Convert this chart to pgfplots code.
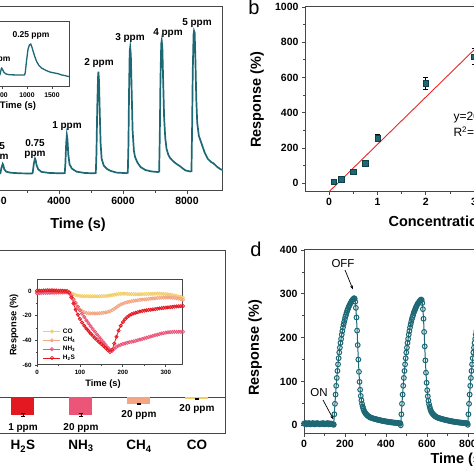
\documentclass[border=0pt]{standalone}
\usepackage{pgfplots}
\pgfplotsset{compat=1.18}
\usetikzlibrary{arrows.meta}
\usepackage{fontspec}
\setmainfont{Liberation Sans}

\definecolor{teal1}{RGB}{28,104,116}
\definecolor{fitred}{RGB}{232,40,40}
\definecolor{coC}{RGB}{242,206,106}
\definecolor{chC}{RGB}{244,166,130}
\definecolor{nhC}{RGB}{236,84,120}
\definecolor{hsC}{RGB}{228,24,32}
\definecolor{frameC}{RGB}{70,70,70}

\newcommand{\fs}[1]{\fontsize{#1}{#1}\selectfont}

\pgfplotsset{
  panel/.style={
    scale only axis, anchor=south west,
    axis line style={frameC, line width=1pt},
    tick style={frameC, line width=0.8pt}, tick align=outside,
    major tick length=3pt, minor tick length=1.8pt,
    xtick pos=left, ytick pos=left,
    /pgf/number format/assume math mode=true,
    /pgf/number format/1000 sep={},
    ticklabel style={font=\fs{10.5}\bfseries},
  },
  cbar/.style={ybar, bar width=23pt, draw=none,
    error bars/.cd, y dir=both, y explicit,
    error bar style={black, line width=0.8pt},
    error mark options={rotate=90, black, mark size=2.4pt, line width=0.8pt},
    /pgfplots/.cd},
  tr/.style={#1, mark=o, mark size=1.6pt, line width=0.75pt},
}

\begin{document}
\begin{tikzpicture}[x=1pt,y=1pt]
\useasboundingbox (0,0) rectangle (474,474);
\clip (0,0) rectangle (474,474);
\fill[white] (0,0) rectangle (474,474);

%% ---------------- (a) response transients ----------------
\begin{axis}[panel, at={(-69pt,283pt)}, width=292pt, height=184pt,
  xmin=0, xmax=9125, ymin=0, ymax=1000,
  xtick={0,2000,4000,6000,8000}, minor x tick num=1, ytick=\empty]
\addplot[teal1, line width=1.7pt] coordinates {
(1800,96)(2100,95)(2170,97)(2200,125)(2240,147)(2260,140)(2290,118)(2350,105)(2500,99)
(2800,96)(3150,95)(3180,100)(3215,150)(3250,176)(3270,168)(3300,140)(3350,118)(3450,104)
(3700,98)(4100,96)(4180,98)(4200,150)(4225,260)(4245,304)(4265,280)(4290,200)(4330,145)
(4400,122)(4550,105)(4800,98)(5100,96)(5150,98)(5170,200)(5195,450)(5220,620)(5232,648)
(5250,600)(5275,420)(5300,260)(5333,175)(5400,138)(5500,120)(5600,110)(5800,100)(6100,97)
(6150,99)(6170,250)(6190,550)(6210,760)(6225,781)(6245,740)(6270,550)(6300,330)(6340,220)
(6375,186)(6450,155)(6550,130)(6700,114)(6900,106)(7100,103)(7130,106)(7150,300)(7170,600)
(7195,800)(7210,817)(7230,780)(7255,600)(7285,400)(7320,290)(7360,230)(7420,195)(7470,180)
(7550,165)(7650,150)(7780,135)(7850,125)(7950,112)(8100,106)(8140,108)(8160,350)(8180,650)
(8205,850)(8220,870)(8240,860)(8265,700)(8290,500)(8320,370)(8370,300)(8430,270)(8460,255)
(8550,210)(8650,175)(8750,158)(8830,150)(8950,130)(9050,118)(9125,114)};
\node[font=\fs{10}\bfseries] at (axis cs:8312,913) {5 ppm};
\node[font=\fs{10}\bfseries] at (axis cs:7406,859) {4 ppm};
\node[font=\fs{10}\bfseries] at (axis cs:6219,832) {3 ppm};
\node[font=\fs{10}\bfseries] at (axis cs:5250,696) {2 ppm};
\node[font=\fs{10}\bfseries] at (axis cs:4250,353) {1 ppm};
\node[font=\fs{10}\bfseries, align=center, inner sep=0pt] at (axis cs:3250,228) {0.75\\ppm};
\node[font=\fs{10}\bfseries, align=center, inner sep=0pt] at (axis cs:2094,212) {0.5\\ppm};
\end{axis}
\node[font=\fs{14.5}\bfseries] at (78,249) {Time (s)};

% inset of (a): low concentrations
\begin{axis}[panel, at={(-23pt,387pt)}, width=92pt, height=65pt,
  xmin=0, xmax=1840, ymin=0, ymax=100,
  xtick={0,500,1000,1500}, ytick=\empty,
  major tick length=2pt, axis background/.style={fill=white},
  ticklabel style={font=\fs{6.8}\bfseries}]
\addplot[teal1, line width=1.3pt] coordinates {
(0,18.5)(200,18.6)(400,18.3)(455,18.5)(470,22)(485,28)(495,29)(510,27)(540,22.5)(580,20)
(650,18.8)(800,18.5)(950,18.5)(965,22)(990,40)(1020,58)(1050,65)(1075,66)(1100,61)(1126,54)
(1160,46)(1194,39)(1240,33)(1294,29)(1380,25.5)(1460,23)(1550,21.5)(1620,20.5)(1694,18.5)
(1760,17.5)(1840,16)};
\node[font=\fs{8.5}\bfseries] at (axis cs:1080,80) {0.25 ppm};
\node[font=\fs{8.5}\bfseries, anchor=east] at (axis cs:740,43) {0.1 ppm};
\end{axis}
\node[font=\fs{9.5}\bfseries] at (18,368) {Time (s)};

%% ---------------- (b) calibration ----------------
\begin{axis}[panel, at={(305pt,282pt)}, width=289.8pt, height=185pt,
  xmin=-0.5, xmax=5.5, ymin=-50, ymax=1000,
  xtick={0,1,2,3,4,5}, minor x tick num=1,
  ytick={0,200,400,600,800,1000}, minor y tick num=1]
\addplot[fitred, line width=0.9pt] coordinates {(0,-48) (3.3,837)};
\addplot[only marks, mark=square*, mark size=2.7pt,
  mark options={fill=teal1, draw=teal1!60!black},
  error bars/.cd, y dir=both, y explicit,
  error bar style={black, line width=0.8pt},
  error mark options={rotate=90, black, mark size=2.4pt, line width=0.8pt}]
  coordinates {(0.1,8) +- (0,4) (0.25,22) +- (0,5) (0.5,65) +- (0,6)
  (0.75,113) +- (0,7) (1,255) +- (0,20) (2,567) +- (0,35) (3,718) +- (0,45)};
\end{axis}
\node[font=\fs{20}, anchor=base] at (254,459) {b};
\node[font=\fs{14.5}\bfseries, rotate=90] at (257,374) {Response (\%)};
\node[font=\fs{14.5}\bfseries, anchor=west] at (385,251) {Concentration (ppm)};
\node[font=\fs{12}, anchor=west] at (450,356) {y=268.2x-47.6};
\node[font=\fs{12}, anchor=west] at (450,342) {R\textsuperscript{2}=0.972};

%% ---------------- (c) selectivity ----------------
\begin{axis}[panel, at={(-6pt,40pt)}, width=232pt, height=183pt,
  xmin=-0.5, xmax=3.5, ymin=-100, ymax=400,
  xtick={0,1,2,3},
  xticklabels={H\textsubscript{2}S, NH\textsubscript{3}, CH\textsubscript{4}, CO},
  xticklabel style={font=\fs{13.5}\bfseries},
  xtick style={draw=none}, ytick={-100,0,100,200,300,400}]
\draw[frameC, line width=1pt] (axis cs:-0.5,0) -- (axis cs:3.5,0);
\addplot[fill=hsC, cbar] coordinates {(0,-48) +- (0,4)};
\addplot[fill=nhC, cbar] coordinates {(1,-48) +- (0,4)};
\addplot[fill=chC, cbar] coordinates {(2,-18) +- (0,2)};
\addplot[fill=coC, cbar] coordinates {(3,-4.5) +- (0,1.5)};
\node[font=\fs{10}\bfseries] at (axis cs:0,-83.6) {1 ppm};
\node[font=\fs{10}\bfseries] at (axis cs:1,-83.6) {20 ppm};
\node[font=\fs{10}\bfseries] at (axis cs:2,-48) {20 ppm};
\node[font=\fs{10}\bfseries] at (axis cs:3,-31.7) {20 ppm};
\end{axis}

% inset of (c): transient responses
\begin{axis}[panel, at={(37pt,109pt)}, width=146pt, height=86pt,
  xmin=0, xmax=340, ymin=-60, ymax=10,
  xtick={0,100,200,300}, ytick={-60,-40,-20,0},
  major tick length=2pt, minor tick length=1.2pt,
  minor x tick num=1, minor y tick num=1,
  ticklabel style={font=\fs{6.2}\bfseries},
  legend style={at={(axis description cs:0.04,0.45)}, anchor=north west,
    draw=none, fill=none, font=\fs{6.5}\bfseries, row sep=-1.2pt, inner sep=0pt},
  legend cell align=left]
\addplot[tr=coC] coordinates {
(0,0.3)(5,0.4)(10,0.3)(15,0.5)(20,0.4)(25,0.3)(30,0.5)(35,0.4)(40,0.3)(45,0.4)(50,0.3)(55,0.2)
(60,0.2)(65,0.1)(70,0)(75,-0.6)(80,-1.6)(85,-2.5)(90,-3.1)(95,-3.5)(100,-3.8)(105,-3.9)(110,-4)
(115,-4)(120,-4.1)(125,-4.1)(130,-4)(135,-4)(140,-4.1)(145,-4)(150,-3.9)(155,-3.9)(160,-3.8)
(165,-3.7)(170,-3.5)(175,-3.2)(180,-2.8)(185,-2.5)(190,-2.2)(195,-2.1)(200,-2)(205,-2)(210,-2.1)
(215,-2.2)(220,-2.3)(225,-2.3)(230,-2.4)(235,-2.4)(240,-2.4)(245,-2.3)(250,-2.3)(255,-2.2)
(260,-2.2)(265,-2.1)(270,-2.1)(275,-2)(280,-2)(285,-2)(290,-2.1)(295,-2.2)(300,-2.3)(305,-2.5)
(310,-2.8)(315,-3.1)(320,-3.4)(325,-3.8)(330,-4.2)(335,-4.6)(340,-5)};
\addlegendentry{CO}
\addplot[tr=chC] coordinates {
(0,-1)(5,-1)(10,-0.9)(15,-1)(20,-1.1)(25,-1)(30,-0.9)(35,-1)(40,-1)(45,-0.9)(50,-0.8)(55,-0.7)
(60,-0.6)(65,-0.6)(70,-0.7)(75,-1.8)(80,-4.5)(85,-7.5)(90,-10.3)(95,-12.8)(100,-14.8)(105,-16.2)
(110,-17.1)(115,-17.6)(120,-17.9)(125,-18)(130,-18)(135,-18)(140,-17.9)(145,-17.8)(150,-17.7)
(155,-17.5)(160,-17.2)(165,-16.8)(170,-16.2)(175,-15.3)(180,-14.2)(185,-13)(190,-11.8)(195,-10.8)
(200,-10)(205,-9.4)(210,-8.9)(215,-8.5)(220,-8.1)(225,-7.8)(230,-7.5)(235,-7.2)(240,-7)(245,-6.8)
(250,-6.6)(255,-6.4)(260,-6.2)(265,-6)(270,-5.8)(275,-5.7)(280,-5.5)(285,-5.4)(290,-5.3)(295,-5.2)
(300,-5.1)(305,-5.1)(310,-5.1)(315,-5.2)(320,-5.4)(325,-5.7)(330,-6)(335,-6.4)(340,-6.8)};
\addlegendentry{CH\textsubscript{4}}
\addplot[tr=nhC] coordinates {
(0,-1.5)(5,-1.5)(10,-1.4)(15,-1.3)(20,-1.3)(25,-1.2)(30,-1.2)(35,-1.1)(40,-1.1)(45,-1)(50,-1)
(55,-0.9)(60,-0.9)(65,-0.9)(70,-1)(75,-1.5)(80,-3.5)(85,-6.5)(90,-9.5)(95,-12.5)(100,-15.5)
(105,-18.3)(110,-21)(115,-23.6)(120,-26)(125,-28.4)(130,-30.7)(135,-33)(140,-35.2)(145,-37.4)
(150,-39.5)(155,-41.6)(160,-43.7)(165,-45.8)(170,-47.8)(175,-48.5)(180,-46.8)(185,-45.2)
(190,-44.2)(195,-43.5)(200,-42.9)(205,-42.4)(210,-41.9)(215,-41.5)(220,-41.1)(225,-40.7)
(230,-40.3)(235,-39.8)(240,-39.3)(245,-38.8)(250,-38.3)(255,-37.8)(260,-37.3)(265,-36.8)
(270,-36.3)(275,-35.8)(280,-35.3)(285,-34.8)(290,-34.4)(295,-34)(300,-33.7)(305,-33.4)
(310,-33.2)(315,-33.1)(320,-33)(325,-33)(330,-33)(335,-33)(340,-33)};
\addlegendentry{NH\textsubscript{3}}
\addplot[tr=hsC] coordinates {
(0,0.5)(5,0.6)(10,0.5)(15,0.6)(20,0.7)(25,0.8)(30,0.8)(35,0.8)(40,0.7)(45,0.6)(50,0.5)(55,0.5)
(60,0.4)(65,0.3)(70,0.2)(75,-1)(80,-5)(85,-10)(90,-15)(95,-19)(100,-22.5)(105,-25.5)(110,-28)
(115,-30.3)(120,-32.4)(125,-34.4)(130,-36.3)(135,-38.1)(140,-39.8)(145,-41.4)(150,-43)(155,-44.6)
(160,-46.2)(165,-47.8)(170,-49.4)(175,-47.5)(180,-42.5)(185,-37)(190,-32)(195,-28)(200,-25)
(205,-22.7)(210,-21)(215,-19.7)(220,-18.7)(225,-18)(230,-17.4)(235,-16.9)(240,-16.5)(245,-16.1)
(250,-15.8)(255,-15.5)(260,-15.2)(265,-15)(270,-14.7)(275,-14.5)(280,-14.2)(285,-14)(290,-13.7)
(295,-13.5)(300,-13.3)(305,-13.1)(310,-12.9)(315,-12.7)(320,-12.5)(325,-12.3)(330,-12.2)
(335,-12)(340,-11.9)};
\addlegendentry{H\textsubscript{2}S}
\end{axis}
\node[font=\fs{9.3}\bfseries, rotate=90] at (14,149) {Response (\%)};
\node[font=\fs{9.3}\bfseries] at (103,90) {Time (s)};

%% ---------------- (d) repeatability ----------------
\begin{axis}[panel, at={(304pt,40pt)}, width=205pt, height=184pt,
  xmin=0, xmax=1000, ymin=-20, ymax=400,
  xtick={0,200,400,600,800,1000}, minor x tick num=1,
  ytick={0,100,200,300,400}, minor y tick num=1]
\addplot[teal1, mark=o, mark size=2.4pt, line width=1pt] coordinates {
(0,4)(4,3)(8,5)(12,2)(16,4)(20,3)(24,5)(28,4)(32,2)(36,3)(40,4)(44,5)(48,3)(52,2)(56,4)(60,3)
(64,5)(68,4)(72,3)(76,2)(80,4)(84,3)(88,3)(92,5)(96,4)(100,2)(104,3)(108,4)(112,3)(116,5)(120,2)
(124,4)(128,3)(132,4)(136,3)(140,2)(144,2)
(145,1)(148,25)(151,49)(154,70)(157,90)(160,108)(163,124)(166,139)(169,153)(172,166)(175,177)
(178,188)(181,197)(184,207)(187,215)(190,223)(193,230)(196,236)(199,242)(202,248)(205,252)
(208,257)(211,262)(214,265)(217,269)(220,272)(223,275)(226,278)(229,280)(232,283)(235,285)
(238,287)(241,288)(244,290)
(247,289)(250,282)(253,268)(256,246)(259,216)(262,183)(265,150)(268,122)(271,99)(274,81)(277,67)
(280,57)(283,49)(286,43)(289,38)(292,34)(295,31)(298,28.5)(301,26.5)(304,25)(307,23.5)(310,22)
(313,21)(316,20)(319,19)(322,18)
(326,17.3)(330,16.6)(334,16)(338,15.4)(342,14.8)(346,14.3)(350,13.8)(354,13.3)(358,12.8)
(362,12.3)(366,11.8)(370,11.4)(374,11)(378,10.6)(382,10.2)(386,9.8)(390,9.4)(394,9)(398,8.7)
(402,8.4)(406,8.1)(410,7.8)(414,7.5)(418,7.2)(422,6.9)(426,6.6)(430,6.4)(434,6.2)(438,6)
(442,5.8)(446,5.6)(450,5.4)(454,5.2)(458,5)(462,4.8)(466,4.6)(470,4.4)
(472,0)(475,25)(478,49)(481,70)(484,90)(487,108)(490,124)(493,139)(496,153)(499,166)(502,177)
(505,188)(508,197)(511,207)(514,215)(517,223)(520,230)(523,236)(526,242)(529,247)(532,251)
(535,256)(538,260)(541,263)(544,267)(547,270)(550,273)(553,276)(556,278)(559,280)(562,282)
(565,284)(568,285)(571,287)
(574,286)(577,279)(580,265)(583,243)(586,213)(589,180)(592,148)(595,120)(598,97)(601,80)(604,66)
(607,56)(610,48)(613,42)(616,37)(619,33)(622,30)(625,28)(628,26)(631,24.5)(634,23)(637,21.7)
(640,20.6)(643,19.6)(646,18.7)(649,17.9)
(653,17.2)(657,16.5)(661,15.9)(665,15.3)(669,14.7)(673,14.2)(677,13.7)(681,13.2)(685,12.7)
(689,12.2)(693,11.7)(697,11.3)(701,10.9)(705,10.5)(709,10.1)(713,9.7)(717,9.3)(721,8.9)(725,8.6)
(729,8.3)(733,8)(737,7.7)(741,7.4)(745,7.1)(749,6.8)(753,6.5)(757,6.3)(761,6.1)(765,5.9)(769,5.7)
(773,5.5)(777,5.3)(781,5.1)(785,4.9)(789,4.7)(793,4.5)(797,4.3)
(799,1)(802,25)(805,49)(808,70)(811,90)(814,108)(817,124)(820,139)(823,153)(826,166)(829,177)
(832,188)(835,197)(838,207)(841,215)(844,223)};
\end{axis}
\node[font=\fs{20}, anchor=base] at (256,217) {d};
\node[font=\fs{14.5}\bfseries, rotate=90] at (255,126) {Response (\%)};
\node[font=\fs{14.5}\bfseries, anchor=west] at (427,14) {Time (s)};
\node[font=\fs{11.5}] at (319,81) {ON};
\draw[-{Stealth[length=4pt]}, line width=0.7pt] (323,74) -- (333.5,54.5);
\node[font=\fs{11.5}] at (343,210) {OFF};
\draw[-{Stealth[length=4pt]}, line width=0.7pt] (345,204) -- (353,184.5);
\end{tikzpicture}
\end{document}
